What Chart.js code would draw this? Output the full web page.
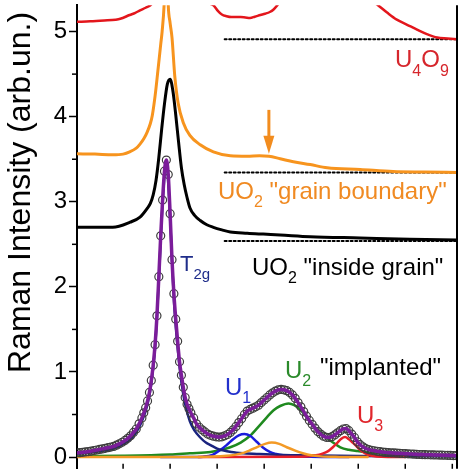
<!DOCTYPE html>
<html>
<head>
<meta charset="utf-8">
<script src="https://cdn.jsdelivr.net/npm/chart.js@4.4.1/dist/chart.umd.min.js"></script>
<style>
  html, body { margin: 0; padding: 0; background: #fff; }
  #chart { display: block; }
</style>
</head>
<body>
<canvas id="chart" width="474" height="474"></canvas>
<script>
// ===== Raman shift (cm-1) / intensity (arb. un.) =====

// "implanted" measured spectrum (circles) and its fit (purple line)
const implShift = [351,354,357,360,363,366,369,372,375,378,381,384,387,390,393,396,399,402,405,408,411,414,417,420,
    422,424,426,428,430,432,434,436,438,440,442,444,446,448,450,452,454,456,458,460,462,464,466,468,470,472,
    475,478,481,484,487,490,493,496,499,502,505,508,511,514,517,520,523,526,529,532,535,538,541,544,547,550,
    553,556,559,562,565,568,571,574,577,580,583,586,589,592,595,598,601,604,607,610,613,616,619,622,625,628,
    631,634,637,640,643,646,649,652,655,658,661,664,667,670,673,676,679,682,685,688,691,694,697,700,703,706,
    709,712,715,718,721,724,727,730,733,736,739,742,745,748,751,754];
const implInt = [0.050,0.052,0.056,0.060,0.065,0.070,0.077,0.083,0.090,0.096,0.103,0.110,0.117,0.125,0.140,0.155,0.174,0.195,0.220,0.250,0.290,0.330,0.390,0.460,
    0.52,0.58,0.66,0.76,0.90,1.08,1.32,1.66,2.12,2.60,3.02,3.36,3.49,3.32,2.86,2.32,1.92,1.62,1.36,1.12,0.96,0.82,0.70,0.62,0.57,0.52,
    0.46,0.39,0.35,0.32,0.295,0.27,0.255,0.245,0.238,0.235,0.238,0.25,0.265,0.29,0.32,0.36,0.405,0.45,0.50,0.54,0.56,0.575,0.59,0.61,0.64,0.67,
    0.70,0.73,0.755,0.775,0.79,0.795,0.79,0.78,0.76,0.73,0.69,0.64,0.59,0.535,0.48,0.43,0.385,0.34,0.30,0.27,0.245,0.232,0.23,0.24,0.26,0.285,
    0.31,0.33,0.335,0.31,0.27,0.23,0.18,0.145,0.12,0.10,0.088,0.08,0.074,0.068,0.063,0.059,0.055,0.052,0.05,0.048,0.046,0.044,0.042,0.04,0.038,0.036,
    0.034,0.032,0.03,0.029,0.028,0.027,0.026,0.025,0.024,0.023,0.022,0.021,0.02,0.019,0.018,0.017];

// fit components
const t2gShift = [351,370,390,400,410,420,426,430,434,438,442,446,450,454,458,462,466,471,476,482,488,493,500,506,515,528,545,570,600,650,700,755];
const t2gInt = [0.04,0.06,0.10,0.15,0.23,0.42,0.62,0.86,1.28,2.08,2.98,3.45,2.80,1.85,1.28,0.88,0.62,0.42,0.31,0.23,0.17,0.14,0.10,0.08,0.06,0.045,0.035,0.025,0.02,0.013,0.01,0.008];

const u1Shift = [440,470,485,495,503,510,517,523,529,535,542,549,556,563,570,580,600,620,640];
const u1Int = [0,0,0.005,0.025,0.08,0.14,0.21,0.255,0.27,0.25,0.18,0.11,0.06,0.035,0.02,0.01,0.003,0,0];

const uxShift = [351,480,510,525,535,543,551,558,566,574,583,591,600,610,630,660];
const uxInt = [0,0.002,0.015,0.04,0.08,0.12,0.155,0.17,0.155,0.115,0.075,0.045,0.02,0.008,0.002,0];

const u2Shift = [351,400,450,471,493,505,514,525,535,545,553,560,567,576,582,588,595,602,610,617,624,631,640,649,660,670,690,720,755];
const u2Int = [0.01,0.015,0.03,0.045,0.06,0.085,0.115,0.17,0.25,0.37,0.47,0.55,0.60,0.63,0.61,0.56,0.47,0.37,0.29,0.22,0.165,0.115,0.085,0.07,0.055,0.045,0.03,0.02,0.015];

const u3Shift = [480,590,605,612,618,623,628,632,636,640,644,647,651,655,660,666,675,690,700];
const u3Int = [0,0.005,0.02,0.04,0.07,0.115,0.17,0.215,0.235,0.21,0.17,0.14,0.095,0.06,0.03,0.012,0.003,0,0];

// shifted spectra
const u4o9Shift = [351,365,380,392,397,407,413,418,424,429,436,445,455,465,475,485,492,496,501,505,510,515,520,525,530,535,540,546,551,556,560,564,570,590,620,650,665,671,681,691,702,713,723,734,745,755];
const u4o9Int = [5.115,5.12,5.13,5.14,5.15,5.195,5.22,5.25,5.28,5.31,5.40,5.60,5.65,5.55,5.45,5.38,5.33,5.31,5.24,5.20,5.18,5.17,5.17,5.17,5.165,5.16,5.175,5.195,5.21,5.23,5.26,5.31,5.40,5.55,5.55,5.45,5.36,5.31,5.22,5.14,5.08,5.02,4.97,4.93,4.92,4.91];

const gbShift = [351,370,389,400,407,414,418,422,425.5,429,431,434,437,440,441.5,443.6,446,448,450,452,455,458.5,464,471,482,496,514,532,545,555,567,581,599,617,652,687,720,755];
const gbInt = [3.563,3.56,3.552,3.56,3.586,3.63,3.678,3.74,3.816,3.92,4.011,4.241,4.54,4.85,5.0,5.31,6.05,5.31,5.1,4.93,4.47,4.16,3.93,3.78,3.67,3.586,3.54,3.535,3.54,3.535,3.506,3.47,3.437,3.40,3.38,3.356,3.35,3.345];

const igShift = [351,389,407.5,418,425.5,429,432,435,438,441,444,447,450,453,456,459,462,465,468,471,476,482,489,496,505,514,532,549,567,599,652,705,755];
const igInt = [2.70,2.70,2.76,2.82,2.92,2.98,3.08,3.25,3.52,3.85,4.15,4.38,4.44,4.30,4.02,3.70,3.40,3.20,3.05,2.93,2.84,2.78,2.73,2.70,2.67,2.645,2.63,2.62,2.61,2.59,2.575,2.56,2.55];

// dotted baselines
const baseShift = [508, 755];
const baseU4O9 = [4.91, 4.91];
const baseGB = [3.345, 3.345];
const baseIG = [2.54, 2.54];

// arrow on the grain-boundary spectrum
const arrowShift = 555;
const arrowFrom = 4.08;
const arrowTo = 3.565;

// axes
const yTicks = [0, 1, 2, 3, 4, 5];
const yMinor = [0.5, 1.5, 2.5, 3.5, 4.5];
const xTicks = [400, 450, 500, 550, 600, 650, 700, 750];

const FONT = 'Arial, "Liberation Sans", Helvetica, sans-serif';

// ===== labels: [text, font size, baseline shift] =====
const labels = [
    { x: 395, y: 67, color: "#d6262c", parts: [["U", 24, 0], ["4", 16, 9], ["O", 24, 0], ["9", 16, 9]] },
    { x: 218, y: 199, color: "#f08a22", parts: [["UO", 24, 0], ["2", 16, 8], [" \"grain boundary\"", 24, 0]] },
    { x: 252, y: 275, color: "#000000", parts: [["UO", 24, 0], ["2", 16, 8], [" \"inside grain\"", 24, 0]] },
    { x: 180, y: 271, color: "#1f2d8a", parts: [["T", 22, 0], ["2g", 15, 8]] },
    { x: 225, y: 395, color: "#2230cc", parts: [["U", 24, 0], ["1", 16, 8]] },
    { x: 285, y: 378, color: "#2a8a2a", parts: [["U", 24, 0], ["2", 16, 8]] },
    { x: 320, y: 375, color: "#000000", parts: [["\"implanted\"", 24, 0]] },
    { x: 357, y: 423, color: "#e0262c", parts: [["U", 24, 0], ["3", 16, 8]] }
];

function toXY(xs, ys) {
    return xs.map((x, i) => ({ x: x, y: ys[i] }));
}

function lineSet(xs, ys, color, width, order) {
    return {
        data: toXY(xs, ys),
        borderColor: color,
        borderWidth: width,
        pointRadius: 0,
        order: order
    };
}

function drawRich(ctx, x, y, color, parts) {
    ctx.fillStyle = color;
    ctx.textAlign = "left";
    ctx.textBaseline = "alphabetic";
    let cx = x;
    parts.forEach(([txt, size, dy]) => {
        ctx.font = size + "px " + FONT;
        ctx.fillText(txt, cx, y + dy);
        cx += ctx.measureText(txt).width;
    });
}

// ===== frame, minor ticks, arrow and texts =====
const decor = {
    id: "decor",
    beforeDraw(chart) {
        const ctx = chart.ctx;
        ctx.save();
        ctx.fillStyle = "#fff";
        ctx.fillRect(0, 0, chart.width, chart.height);
        ctx.restore();
    },
    afterDraw(chart) {
        const ctx = chart.ctx;
        const a = chart.chartArea;
        const sx = chart.scales.x;
        const sy = chart.scales.y;

        ctx.save();
        ctx.strokeStyle = "#000";
        ctx.lineWidth = 2;
        ctx.beginPath();
        ctx.moveTo(a.right, a.top);
        ctx.lineTo(a.right, a.bottom);
        ctx.stroke();

        ctx.lineWidth = 1.5;
        yMinor.forEach(v => {
            const p = sy.getPixelForValue(v);
            ctx.beginPath();
            ctx.moveTo(a.left - 5, p);
            ctx.lineTo(a.left, p);
            ctx.stroke();
        });
        xTicks.forEach(v => {
            const p = sx.getPixelForValue(v);
            ctx.beginPath();
            ctx.moveTo(p, a.bottom);
            ctx.lineTo(p, a.bottom - 5);
            ctx.stroke();
        });

        // arrow
        const ax = sx.getPixelForValue(arrowShift);
        const y0 = sy.getPixelForValue(arrowFrom);
        const y1 = sy.getPixelForValue(arrowTo);
        ctx.strokeStyle = "#f28c1e";
        ctx.fillStyle = "#f28c1e";
        ctx.lineWidth = 3;
        ctx.beginPath();
        ctx.moveTo(ax, y0);
        ctx.lineTo(ax, y1 - 16);
        ctx.stroke();
        ctx.beginPath();
        ctx.moveTo(ax - 5.5, y1 - 18);
        ctx.lineTo(ax + 5.5, y1 - 18);
        ctx.lineTo(ax, y1);
        ctx.closePath();
        ctx.fill();

        // y axis title
        ctx.save();
        ctx.translate(30, 373);
        ctx.rotate(-Math.PI / 2);
        ctx.font = "32px " + FONT;
        ctx.fillStyle = "#000";
        ctx.textAlign = "left";
        ctx.textBaseline = "alphabetic";
        ctx.fillText("Raman Intensity (arb.un.)", 0, 0);
        ctx.restore();

        labels.forEach(l => drawRich(ctx, l.x, l.y, l.color, l.parts));
        ctx.restore();
    }
};

new Chart(document.getElementById("chart"), {
    type: "line",
    data: {
        datasets: [
            lineSet(implShift, implInt, "#7b1d9a", 3.5, 0),
            {
                data: toXY(implShift, implInt),
                showLine: false,
                pointRadius: 4,
                pointBorderWidth: 1.2,
                pointBorderColor: "#3d3d3d",
                pointBackgroundColor: "rgba(255,255,255,0)",
                order: 1
            },
            lineSet(uxShift, uxInt, "#f39a26", 2.5, 2),
            lineSet(u3Shift, u3Int, "#e8202a", 2.5, 3),
            lineSet(t2gShift, t2gInt, "#1a237e", 2.5, 4),
            lineSet(u1Shift, u1Int, "#1c1cdc", 2.5, 5),
            lineSet(u2Shift, u2Int, "#1f8a1f", 2.5, 6),
            lineSet(igShift, igInt, "#000000", 3, 7),
            lineSet(gbShift, gbInt, "#f7941e", 3, 8),
            lineSet(u4o9Shift, u4o9Int, "#e3161c", 2.5, 9),
            { ...lineSet(baseShift, baseU4O9, "#000", 2, 10), borderDash: [2, 2.5] },
            { ...lineSet(baseShift, baseGB, "#000", 2, 11), borderDash: [2, 2.5] },
            { ...lineSet(baseShift, baseIG, "#000", 2, 12), borderDash: [2, 2.5] }
        ]
    },
    options: {
        responsive: false,
        animation: false,
        events: [],
        layout: { padding: { top: 0, right: 17, bottom: 0, left: 0 } },
        elements: {
            line: { cubicInterpolationMode: "monotone", borderJoinStyle: "round", borderCapStyle: "round" }
        },
        plugins: { legend: { display: false }, tooltip: { enabled: false } },
        scales: {
            x: { type: "linear", min: 351, max: 755, display: false },
            y: {
                type: "linear",
                min: -0.138,
                max: 5.31,
                afterBuildTicks: s => { s.ticks = yTicks.map(v => ({ value: v })); },
                afterFit: s => { s.width = 77; s.paddingTop = 0; s.paddingBottom = 0; },
                ticks: { color: "#000", font: { size: 24, family: FONT }, padding: 2 },
                grid: { drawOnChartArea: false, drawTicks: true, tickLength: 8, tickWidth: 1.5, tickColor: "#000" },
                border: { display: true, color: "#000", width: 2 }
            }
        }
    },
    plugins: [decor]
});
</script>
</body>
</html>
